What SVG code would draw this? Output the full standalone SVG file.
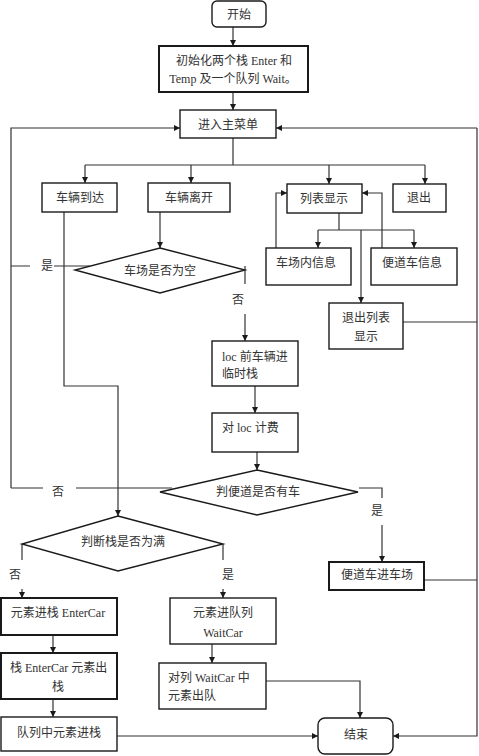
<svg xmlns="http://www.w3.org/2000/svg" width="479" height="756" viewBox="0 0 479 756">
<defs>
<marker id="arr" markerUnits="userSpaceOnUse" markerWidth="7" markerHeight="6" refX="6" refY="3" orient="auto">
<path d="M0,0 L6,3 L0,6 Z" fill="#1a1a1a"/>
</marker>
<style>
.box{fill:#fff;stroke:#1a1a1a;stroke-width:1.4}
.thick{stroke-width:2}
.ln{fill:none;stroke:#333;stroke-width:1.2}
.t{font-family:"Liberation Serif","Noto Sans CJK SC",serif;font-size:12px;fill:#333}
.c{text-anchor:middle}
</style>
</defs>
<rect width="479" height="756" fill="#fff"/>
<g id="connectors">
<path class="ln" d="M233,27 V46" marker-end="url(#arr)"/>
<path class="ln" d="M233,92 V110" marker-end="url(#arr)"/>
<path class="ln" d="M233,138 V165 M85,165 H425"/>
<path class="ln" d="M85,165 V183" marker-end="url(#arr)"/>
<path class="ln" d="M191,165 V183" marker-end="url(#arr)"/>
<path class="ln" d="M329,165 V184" marker-end="url(#arr)"/>
<path class="ln" d="M425,165 V184" marker-end="url(#arr)"/>
<path class="ln" d="M11,488 V128 H180" marker-end="url(#arr)"/>
<path class="ln" d="M477,128 H276" marker-end="url(#arr)"/>
<path class="ln" d="M477,128 V736 H393" marker-end="url(#arr)"/>
<path class="ln" d="M276,248 V193 H287" marker-end="url(#arr)"/>
<path class="ln" d="M382,248 V193 H362" marker-end="url(#arr)"/>
<path class="ln" d="M339,213 V230 M318,230 H414"/>
<path class="ln" d="M318,230 V248" marker-end="url(#arr)"/>
<path class="ln" d="M414,230 V248" marker-end="url(#arr)"/>
<path class="ln" d="M361,230 V303" marker-end="url(#arr)"/>
<path class="ln" d="M403,322 H477"/>
<path class="ln" d="M160,212 V248" marker-end="url(#arr)"/>
<path class="ln" d="M64,212 V386 H118 V516" marker-end="url(#arr)"/>
<path class="ln" d="M90,266 H54 M30,266 H11"/>
<path class="ln" d="M245,266 V284"/>
<path class="ln" d="M245,314 V341" marker-end="url(#arr)"/>
<path class="ln" d="M255,386 V413" marker-end="url(#arr)"/>
<path class="ln" d="M257,452 V470" marker-end="url(#arr)"/>
<path class="ln" d="M172,488 H76 M43,488 H11"/>
<path class="ln" d="M359,488 H382 V498"/>
<path class="ln" d="M382,525 V562" marker-end="url(#arr)"/>
<path class="ln" d="M424,580 H477"/>
<path class="ln" d="M22,544 V560"/>
<path class="ln" d="M22,589 V598" marker-end="url(#arr)"/>
<path class="ln" d="M223,544 V560"/>
<path class="ln" d="M223,589 V598" marker-end="url(#arr)"/>
<path class="ln" d="M53,635 V653" marker-end="url(#arr)"/>
<path class="ln" d="M53,699 V717" marker-end="url(#arr)"/>
<path class="ln" d="M117,736 H318" marker-end="url(#arr)"/>
<path class="ln" d="M212,644 V663" marker-end="url(#arr)"/>
<path class="ln" d="M266,681 H360 V718" marker-end="url(#arr)"/>
</g>
<g id="labels">
<text class="t c" x="47" y="270">是</text>
<text class="t c" x="238" y="304">否</text>
<text class="t c" x="58" y="496">否</text>
<text class="t c" x="377" y="515">是</text>
<text class="t c" x="15" y="579">否</text>
<text class="t c" x="228" y="579">是</text>
</g>
<g id="start"><rect class="box" x="212" y="1" width="54" height="26" rx="5"/><text class="t c" x="239" y="19">开始</text></g>
<g id="init"><rect class="box thick" x="159" y="46" width="149" height="46"/><text class="t c" x="234" y="65">初始化两个栈 Enter 和</text><text class="t c" x="233" y="83">Temp 及一个队列 Wait。</text></g>
<g id="menu"><rect class="box" x="180" y="110" width="96" height="28"/><text class="t c" x="228" y="129">进入主菜单</text></g>
<g id="arrive"><rect class="box" x="42" y="183" width="75" height="29"/><text class="t c" x="80" y="202">车辆到达</text></g>
<g id="leave"><rect class="box" x="148" y="183" width="82" height="29"/><text class="t c" x="189" y="202">车辆离开</text></g>
<g id="list"><rect class="box" x="287" y="184" width="75" height="29"/><text class="t c" x="324" y="203">列表显示</text></g>
<g id="quit"><rect class="box" x="393" y="184" width="53" height="28"/><text class="t c" x="419" y="202">退出</text></g>
<g id="yardEmpty"><polygon class="box" points="160,248 245,270 160,293 75,270"/><text class="t c" x="160" y="275">车场是否为空</text></g>
<g id="yardInfo"><rect class="box" x="266" y="248" width="85" height="37"/><text class="t c" x="306" y="267">车场内信息</text></g>
<g id="sideInfo"><rect class="box" x="371" y="248" width="86" height="37"/><text class="t c" x="412" y="267">便道车信息</text></g>
<g id="exitList"><rect class="box" x="329" y="303" width="74" height="46"/><text class="t c" x="366" y="322">退出列表</text><text class="t c" x="366" y="341">显示</text></g>
<g id="loc"><rect class="box" x="212" y="341" width="86" height="45"/><text class="t" x="222" y="361">loc 前车辆进</text><text class="t" x="222" y="378">临时栈</text></g>
<g id="fee"><rect class="box" x="212" y="413" width="86" height="39"/><text class="t" x="222" y="432">对 loc 计费</text></g>
<g id="sideCheck"><polygon class="box" points="257,470 358,492 257,515 160,492"/><text class="t c" x="258" y="496">判便道是否有车</text></g>
<g id="sideIn"><rect class="box thick" x="329" y="562" width="95" height="28"/><text class="t c" x="377" y="579">便道车进车场</text></g>
<g id="fullCheck"><polygon class="box" points="118,516 223,544 118,571 22,544"/><text class="t c" x="123" y="546">判断栈是否为满</text></g>
<g id="push"><rect class="box thick" x="1" y="598" width="116" height="37"/><text class="t c" x="58" y="617">元素进栈 EnterCar</text></g>
<g id="pop"><rect class="box thick" x="1" y="653" width="116" height="46"/><text class="t" x="10" y="672">栈 EnterCar 元素出</text><text class="t c" x="58" y="691">栈</text></g>
<g id="queuePush"><rect class="box" x="1" y="717" width="116" height="34"/><text class="t c" x="59" y="737">队列中元素进栈</text></g>
<g id="enqueue"><rect class="box" x="170" y="598" width="106" height="46"/><text class="t c" x="223" y="617">元素进队列</text><text class="t c" x="223" y="637">WaitCar</text></g>
<g id="dequeue"><rect class="box" x="159" y="663" width="107" height="46"/><text class="t" x="168" y="682">对列 WaitCar 中</text><text class="t" x="168" y="700">元素出队</text></g>
<g id="end"><rect class="box" x="318" y="718" width="75" height="36" rx="7"/><text class="t c" x="356" y="739">结束</text></g>
</svg>
